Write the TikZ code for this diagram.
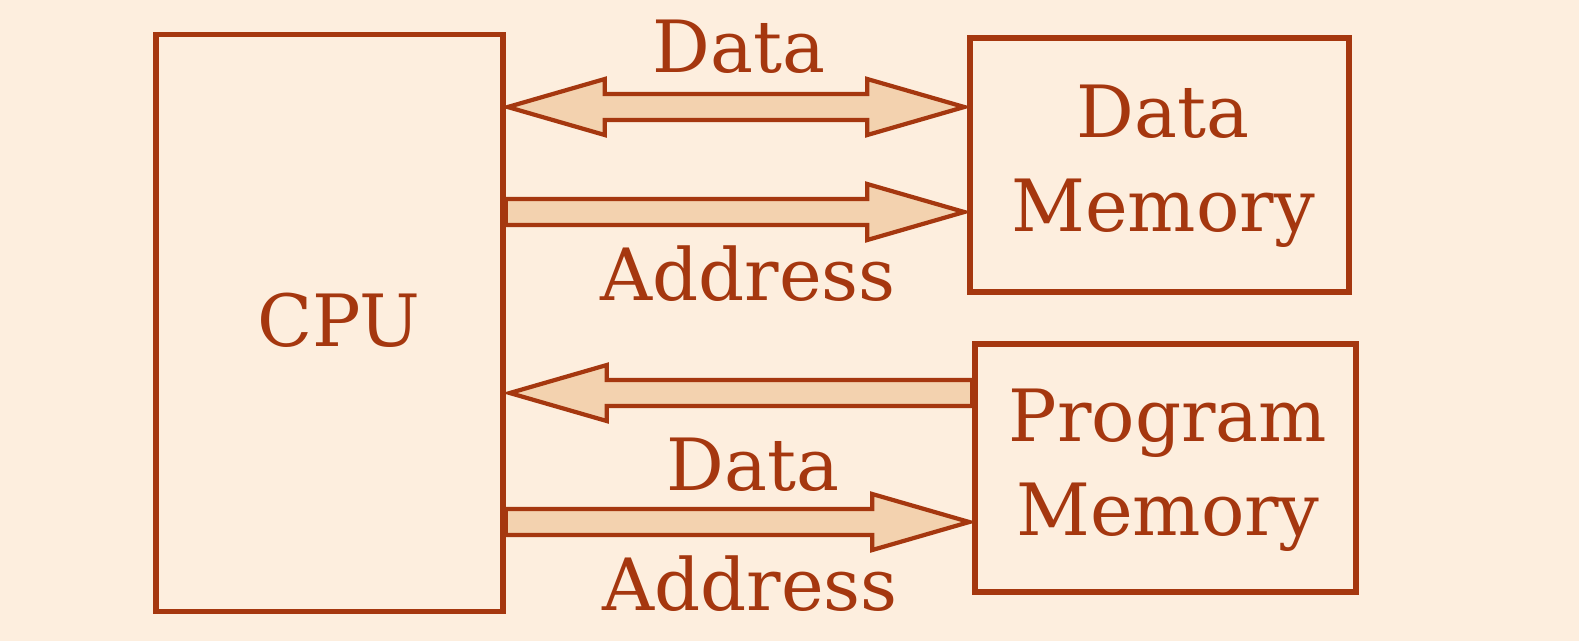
\documentclass[tikz,border=0pt]{standalone}
\usepackage{fontspec}
\setmainfont{DejaVu Serif}
\usetikzlibrary{calc}
\definecolor{bg}{RGB}{253,238,222}
\definecolor{ink}{RGB}{165,55,15}
\definecolor{busfill}{RGB}{243,210,175}
\tikzset{
  box/.style={draw=ink, line width=1.5pt, fill=none, inner sep=0pt},
  lbl/.style={text=ink, font=\fontsize{20.5}{26.7}\selectfont, inner sep=0pt, align=center},
  bus/.style={draw=ink, fill=busfill, line width=1.2pt, line join=miter}
}
% right-pointing bus arrow: from #1 (tail) to #2 (tip), y from #1
\newcommand{\busright}[2]{%
  \draw[bus] let \p1=(#1), \p2=(#2) in
    (\x1,\y1+0.13cm) -- (\x2-0.97cm,\y1+0.13cm) -- (\x2-0.97cm,\y1+0.28cm) -- (\x2,\y1)
    -- (\x2-0.97cm,\y1-0.28cm) -- (\x2-0.97cm,\y1-0.13cm) -- (\x1,\y1-0.13cm) -- cycle;}
% left-pointing bus arrow: from #1 (tail, right) to #2 (tip, left)
\newcommand{\busleft}[2]{%
  \draw[bus] let \p1=(#1), \p2=(#2) in
    (\x1,\y1+0.13cm) -- (\x2+0.97cm,\y1+0.13cm) -- (\x2+0.97cm,\y1+0.28cm) -- (\x2,\y1)
    -- (\x2+0.97cm,\y1-0.28cm) -- (\x2+0.97cm,\y1-0.13cm) -- (\x1,\y1-0.13cm) -- cycle;}
% double-headed bus arrow between #1 (left tip) and #2 (right tip)
\newcommand{\busboth}[2]{%
  \draw[bus] let \p1=(#1), \p2=(#2) in
    (\x1,\y1) -- (\x1+0.97cm,\y1+0.28cm) -- (\x1+0.97cm,\y1+0.13cm) -- (\x2-0.97cm,\y1+0.13cm)
    -- (\x2-0.97cm,\y1+0.28cm) -- (\x2,\y1) -- (\x2-0.97cm,\y1-0.28cm) -- (\x2-0.97cm,\y1-0.13cm)
    -- (\x1+0.97cm,\y1-0.13cm) -- (\x1+0.97cm,\y1-0.28cm) -- cycle;}
\begin{document}
\begin{tikzpicture}[x=0.01cm,y=-0.01cm]
\fill[bg] (0,0) rectangle (1579,641);
\useasboundingbox (0,0) rectangle (1579,641);

\node[box, minimum width=3.47cm, minimum height=5.76cm] (cpu) at (329.5,323) {};
\node[lbl] (cputxt) at (339,320) {CPU};
\node[box, minimum width=3.79cm, minimum height=2.54cm] (dm) at (1159.5,165) {};
\node[lbl] (dmtxt) at (1163,166) {Data\\Memory};
\node[box, minimum width=3.81cm, minimum height=2.48cm] (pm) at (1165.5,468) {};
\node[lbl] (pmtxt) at (1168,470) {Program\\Memory};

\coordinate (y1) at (0,107);
\coordinate (y2) at (0,212);
\coordinate (y3) at (0,393);
\coordinate (y4) at (0,522);

\coordinate (a1l) at ($(cpu.east |- y1)+(2,0)$);
\coordinate (a1r) at ($(dm.west |- y1)+(-3,0)$);
\coordinate (a2l) at (cpu.east |- y2);
\coordinate (a2r) at ($(dm.west |- y2)+(-3,0)$);
\coordinate (a3r) at (pm.west |- y3);
\coordinate (a3l) at ($(cpu.east |- y3)+(4,0)$);
\coordinate (a4l) at (cpu.east |- y4);
\coordinate (a4r) at ($(pm.west |- y4)+(-3,0)$);

\busboth{a1l}{a1r}
\busright{a2l}{a2r}
\busleft{a3r}{a3l}
\busright{a4l}{a4r}

\node[lbl] (l1) at (739,47) {Data};
\node[lbl] (l2) at (748,274) {Address};
\node[lbl] (l3) at (753,465) {Data};
\node[lbl] (l4) at (750,584) {Address};
\end{tikzpicture}
\end{document}
